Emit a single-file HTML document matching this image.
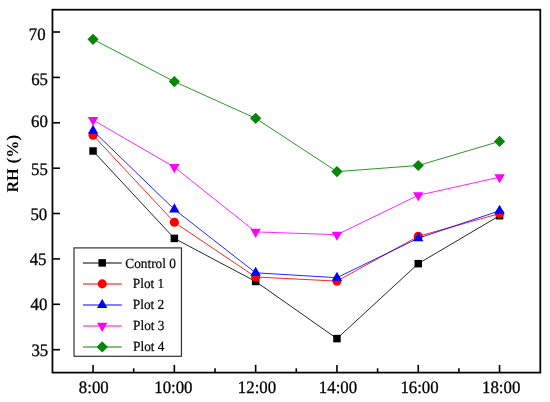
<!DOCTYPE html>
<html><head><meta charset="utf-8"><style>
html,body{margin:0;padding:0;background:#fff;}
body{width:550px;height:402px;overflow:hidden;}
svg{display:block;}
text{text-rendering:geometricPrecision;}
.t{font-family:"Liberation Serif",serif;font-size:17.5px;fill:#000;stroke:#000;stroke-width:0.3px;}
.tl{font-family:"Liberation Serif",serif;font-size:14.0px;fill:#000;stroke:#000;stroke-width:0.2px;}
.ti{font-family:"Liberation Serif",serif;font-size:16.5px;font-weight:bold;fill:#000;}
</style></head><body>
<svg width="550" height="402" viewBox="0 0 550 402">
<rect x="52.45" y="9.7" width="487.85" height="362.90" fill="none" stroke="#000" stroke-width="1.75"/>
<line x1="93.05" y1="372.6" x2="93.05" y2="364.90" stroke="#000" stroke-width="1.6"/>
<line x1="133.70" y1="372.6" x2="133.70" y2="368.30" stroke="#000" stroke-width="1.6"/>
<line x1="174.35" y1="372.6" x2="174.35" y2="364.90" stroke="#000" stroke-width="1.6"/>
<line x1="215.00" y1="372.6" x2="215.00" y2="368.30" stroke="#000" stroke-width="1.6"/>
<line x1="255.65" y1="372.6" x2="255.65" y2="364.90" stroke="#000" stroke-width="1.6"/>
<line x1="296.30" y1="372.6" x2="296.30" y2="368.30" stroke="#000" stroke-width="1.6"/>
<line x1="336.95" y1="372.6" x2="336.95" y2="364.90" stroke="#000" stroke-width="1.6"/>
<line x1="377.60" y1="372.6" x2="377.60" y2="368.30" stroke="#000" stroke-width="1.6"/>
<line x1="418.25" y1="372.6" x2="418.25" y2="364.90" stroke="#000" stroke-width="1.6"/>
<line x1="458.90" y1="372.6" x2="458.90" y2="368.30" stroke="#000" stroke-width="1.6"/>
<line x1="499.55" y1="372.6" x2="499.55" y2="364.90" stroke="#000" stroke-width="1.6"/>
<line x1="52.45" y1="32.0" x2="59.95" y2="32.0" stroke="#000" stroke-width="1.6"/>
<line x1="52.45" y1="77.4" x2="59.95" y2="77.4" stroke="#000" stroke-width="1.6"/>
<line x1="52.45" y1="122.8" x2="59.95" y2="122.8" stroke="#000" stroke-width="1.6"/>
<line x1="52.45" y1="168.2" x2="59.95" y2="168.2" stroke="#000" stroke-width="1.6"/>
<line x1="52.45" y1="213.5" x2="59.95" y2="213.5" stroke="#000" stroke-width="1.6"/>
<line x1="52.45" y1="258.9" x2="59.95" y2="258.9" stroke="#000" stroke-width="1.6"/>
<line x1="52.45" y1="304.3" x2="59.95" y2="304.3" stroke="#000" stroke-width="1.6"/>
<line x1="52.45" y1="349.7" x2="59.95" y2="349.7" stroke="#000" stroke-width="1.6"/>
<text transform="translate(28.75,40.00) scale(0.96,1)" class="t">70</text>
<text transform="translate(31.13,85.00) scale(0.96,1)" class="t">65</text>
<text transform="translate(31.11,127.00) scale(0.96,1)" class="t">60</text>
<text transform="translate(31.11,175.00) scale(0.96,1)" class="t">55</text>
<text transform="translate(30.46,220.00) scale(0.96,1)" class="t">50</text>
<text transform="translate(29.68,265.00) scale(0.96,1)" class="t">45</text>
<text transform="translate(30.51,310.00) scale(0.96,1)" class="t">40</text>
<text transform="translate(31.44,356.00) scale(0.96,1)" class="t">35</text>
<text transform="translate(78.85,393.00) scale(0.96,1)" class="t">8:00</text>
<text transform="translate(154.23,393.00) scale(0.96,1)" class="t">10:00</text>
<text transform="translate(237.86,393.00) scale(0.96,1)" class="t">12:00</text>
<text transform="translate(318.87,393.00) scale(0.96,1)" class="t">14:00</text>
<text transform="translate(400.38,393.00) scale(0.96,1)" class="t">16:00</text>
<text transform="translate(482.06,393.00) scale(0.96,1)" class="t">18:00</text>
<text transform="translate(18.3,192.5) rotate(-90) scale(0.975,1)" class="ti">RH</text>
<text transform="translate(18.3,163.4) rotate(-90) scale(1.04,1)" class="ti">(%)</text>
<polyline points="93.05,151.00 174.35,238.40 255.65,281.50 336.95,338.60 418.25,263.65 499.55,215.70" fill="none" stroke="#000000" stroke-width="1.0" stroke-opacity="0.85"/>
<rect x="89.30" y="147.25" width="7.5" height="7.5" fill="#000000"/>
<rect x="170.60" y="234.65" width="7.5" height="7.5" fill="#000000"/>
<rect x="251.90" y="277.75" width="7.5" height="7.5" fill="#000000"/>
<rect x="333.20" y="334.85" width="7.5" height="7.5" fill="#000000"/>
<rect x="414.50" y="259.90" width="7.5" height="7.5" fill="#000000"/>
<rect x="495.80" y="211.95" width="7.5" height="7.5" fill="#000000"/>
<polyline points="93.05,135.30 174.35,222.30 255.65,277.00 336.95,281.10 418.25,236.30 499.55,213.60" fill="none" stroke="#FF0000" stroke-width="1.0" stroke-opacity="0.85"/>
<circle cx="93.05" cy="135.30" r="4.55" fill="#FF0000"/>
<circle cx="174.35" cy="222.30" r="4.55" fill="#FF0000"/>
<circle cx="255.65" cy="277.00" r="4.55" fill="#FF0000"/>
<circle cx="336.95" cy="281.10" r="4.55" fill="#FF0000"/>
<circle cx="418.25" cy="236.30" r="4.55" fill="#FF0000"/>
<circle cx="499.55" cy="213.60" r="4.55" fill="#FF0000"/>
<polyline points="93.05,130.80 174.35,209.40 255.65,272.80 336.95,277.70 418.25,238.20 499.55,210.80" fill="none" stroke="#0000FF" stroke-width="1.0" stroke-opacity="0.85"/>
<path d="M93.05 124.73L98.25 133.83L87.85 133.83Z" fill="#0000FF"/>
<path d="M174.35 203.33L179.55 212.43L169.15 212.43Z" fill="#0000FF"/>
<path d="M255.65 266.73L260.85 275.83L250.45 275.83Z" fill="#0000FF"/>
<path d="M336.95 271.63L342.15 280.73L331.75 280.73Z" fill="#0000FF"/>
<path d="M418.25 232.13L423.45 241.23L413.05 241.23Z" fill="#0000FF"/>
<path d="M499.55 204.73L504.75 213.83L494.35 213.83Z" fill="#0000FF"/>
<polyline points="93.05,120.00 174.35,167.10 255.65,231.90 336.95,234.70 418.25,195.30 499.55,177.20" fill="none" stroke="#FF00FF" stroke-width="1.0" stroke-opacity="0.85"/>
<path d="M87.85 116.97L98.25 116.97L93.05 126.07Z" fill="#FF00FF"/>
<path d="M169.15 164.07L179.55 164.07L174.35 173.17Z" fill="#FF00FF"/>
<path d="M250.45 228.87L260.85 228.87L255.65 237.97Z" fill="#FF00FF"/>
<path d="M331.75 231.67L342.15 231.67L336.95 240.77Z" fill="#FF00FF"/>
<path d="M413.05 192.27L423.45 192.27L418.25 201.37Z" fill="#FF00FF"/>
<path d="M494.35 174.17L504.75 174.17L499.55 183.27Z" fill="#FF00FF"/>
<polyline points="93.05,39.30 174.35,81.60 255.65,118.30 336.95,171.60 418.25,165.50 499.55,141.40" fill="none" stroke="#058605" stroke-width="1.0" stroke-opacity="0.85"/>
<path d="M93.05 33.70L98.65 39.30L93.05 44.90L87.45 39.30Z" fill="#058605"/>
<path d="M174.35 76.00L179.95 81.60L174.35 87.20L168.75 81.60Z" fill="#058605"/>
<path d="M255.65 112.70L261.25 118.30L255.65 123.90L250.05 118.30Z" fill="#058605"/>
<path d="M336.95 166.00L342.55 171.60L336.95 177.20L331.35 171.60Z" fill="#058605"/>
<path d="M418.25 159.90L423.85 165.50L418.25 171.10L412.65 165.50Z" fill="#058605"/>
<path d="M499.55 135.80L505.15 141.40L499.55 147.00L493.95 141.40Z" fill="#058605"/>
<rect x="74.0" y="247.9" width="107.45" height="108.4" fill="#fff" stroke="#333" stroke-width="1.2"/>
<line x1="83.0" y1="263.0" x2="121.8" y2="263.0" stroke="#000000" stroke-width="1.0"/>
<rect x="98.45" y="259.15" width="7.5" height="7.5" fill="#000000"/>
<text transform="translate(125.31,268.00) scale(0.95,1)" class="tl">Control 0</text>
<line x1="83.0" y1="284.0" x2="121.8" y2="284.0" stroke="#FF0000" stroke-width="1.0"/>
<circle cx="102.20" cy="283.90" r="4.55" fill="#FF0000"/>
<text transform="translate(132.82,288.00) scale(0.95,1)" class="tl">Plot 1</text>
<line x1="83.0" y1="305.0" x2="121.8" y2="305.0" stroke="#0000FF" stroke-width="1.0"/>
<path d="M102.20 298.83L107.40 307.93L97.00 307.93Z" fill="#0000FF"/>
<text transform="translate(132.86,309.00) scale(0.95,1)" class="tl">Plot 2</text>
<line x1="83.0" y1="326.0" x2="121.8" y2="326.0" stroke="#FF00FF" stroke-width="1.0"/>
<path d="M97.00 322.87L107.40 322.87L102.20 331.97Z" fill="#FF00FF"/>
<text transform="translate(133.08,330.00) scale(0.95,1)" class="tl">Plot 3</text>
<line x1="83.0" y1="347.0" x2="121.8" y2="347.0" stroke="#058605" stroke-width="1.0"/>
<path d="M102.20 341.30L107.80 346.90L102.20 352.50L96.60 346.90Z" fill="#058605"/>
<text transform="translate(133.05,351.00) scale(0.95,1)" class="tl">Plot 4</text>
</svg>
</body></html>
